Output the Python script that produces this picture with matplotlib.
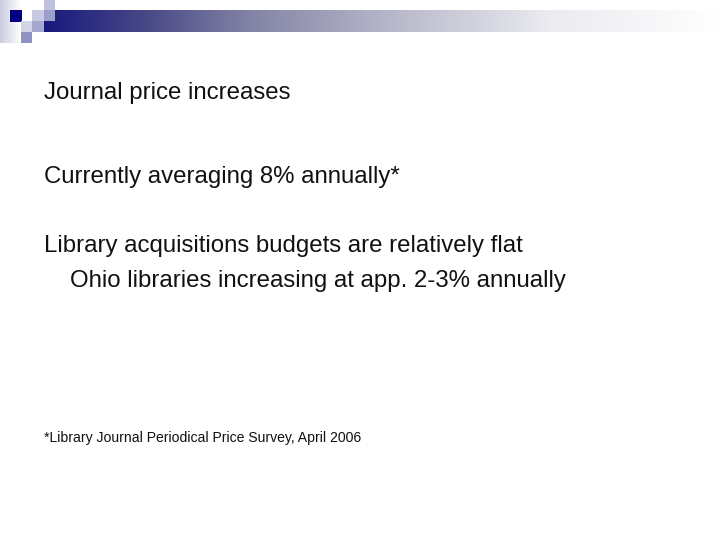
import numpy as np
import matplotlib
matplotlib.use('Agg')
import matplotlib.pyplot as plt
from matplotlib.patches import Rectangle

# slide text
lines = ["Journal price increases",
         "Currently averaging 8% annually*",
         "Library acquisitions budgets are relatively flat",
         "Ohio libraries increasing at app. 2-3% annually"]
footnote = "*Library Journal Periodical Price Survey, April 2006"

# gradient stops of the header bar
bar_stops = [0.0, 0.15, 0.3, 0.5, 0.75, 1.0]
bar_red = [25, 72, 130, 180, 235, 255]
bar_green = [25, 72, 130, 180, 235, 255]
bar_blue = [125, 135, 165, 200, 240, 255]

# decorative squares: x, y, w, h, colour
squares = [(10, 10, 12, 12, '#00007f'),
           (44, 0, 11, 10, '#bfc0dc'),
           (32, 10, 12, 11, '#c8c9e2'),
           (44, 10, 11, 11, '#9c9ecb'),
           (21, 21, 11, 11, '#d3d4e8'),
           (32, 21, 12, 11, '#a6a8d0'),
           (21, 32, 11, 11, '#8f91c4')]

fig = plt.figure(figsize=(7.2, 5.4), dpi=100)
ax = fig.add_axes([0, 0, 1, 1])
ax.set_xlim(0, 720)
ax.set_ylim(540, 0)
ax.axis('off')

# header bar
xs = np.linspace(0, 1, 256)
rgb = np.stack([np.interp(xs, bar_stops, bar_red),
                np.interp(xs, bar_stops, bar_green),
                np.interp(xs, bar_stops, bar_blue)], axis=-1)[None, :, :] / 255
ax.imshow(rgb, extent=[44, 720, 32, 10], aspect='auto', zorder=1)

# pale fade on the left edge
fade = np.linspace(0.8, 1, 64)
fade_rgb = np.stack([fade, fade, fade + (1 - fade) * 0.4], axis=-1)[None, :, :]
ax.imshow(fade_rgb, extent=[0, 21, 43, 0], aspect='auto', zorder=1)
ax.add_patch(Rectangle((21, 0), 23, 10, color='white', zorder=1))
ax.set_xlim(0, 720)
ax.set_ylim(540, 0)

for x, y, w, h, c in squares:
    ax.add_patch(Rectangle((x, y), w, h, facecolor=c, edgecolor='none', zorder=2))

font = 'Liberation Sans'
ax.text(43.5, 93, lines[0], fontsize=17.3, family=font, va='center', color='#111111')
ax.text(43.5, 177, lines[1], fontsize=17.3, family=font, va='center', color='#111111')
ax.text(43.5, 246, lines[2], fontsize=17.3, family=font, va='center', color='#111111')
ax.text(70.5, 281, lines[3], fontsize=17.3, family=font, va='center', color='#111111')
ax.text(43.5, 438, footnote, fontsize=10.05, family=font, va='center', color='#111111')

fig.savefig('out.png', dpi=100)
